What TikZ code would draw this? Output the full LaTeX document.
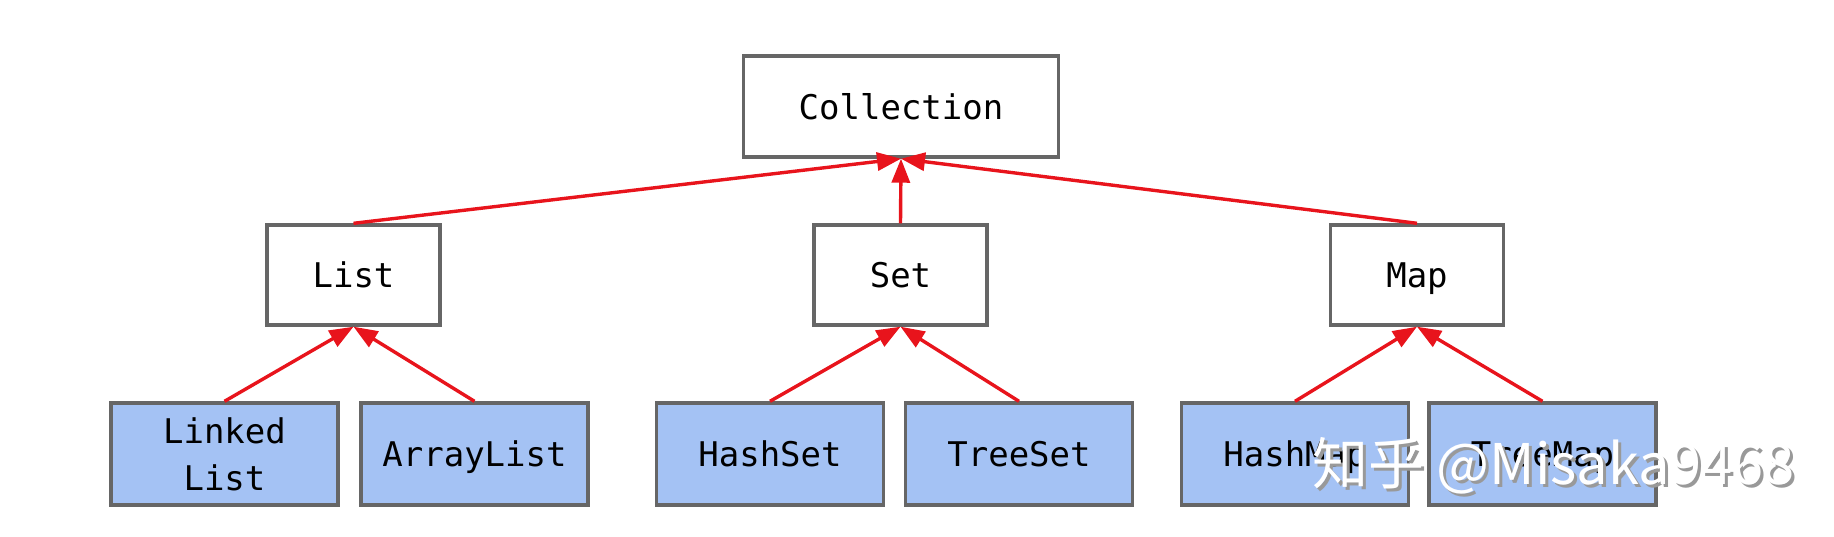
\documentclass[tikz,border=0pt]{standalone}
\usepackage{fontspec}
\setmonofont{DejaVu Sans Mono}
\newfontfamily\cjk{Noto Sans CJK SC}
\usetikzlibrary{arrows.meta}
\definecolor{boxgray}{HTML}{666666}
\definecolor{leafblue}{HTML}{A4C2F4}
\definecolor{arrred}{HTML}{E8141C}
\begin{document}
\begin{tikzpicture}[x=1pt,y=-1pt,
  box/.style={draw=boxgray,line width=3.4pt,fill=white,inner sep=0pt,
    font=\ttfamily\fontsize{34}{47}\selectfont,align=center},
  oneline/.style={text height=25pt,text depth=0pt},
  midbox/.style={box,oneline,minimum width=173pt,minimum height=100pt},
  leaf/.style={box,fill=leafblue,minimum width=227pt,minimum height=102pt},
  link/.style={draw=arrred,line width=3.4pt,-{Triangle[length=24pt,width=18pt]}}]
\useasboundingbox (0,0) rectangle (1834,536);
\node[box,oneline,minimum width=315pt,minimum height=101pt] (coll) at (901,106.5) {Collection};
\node[midbox] (list) at (353.5,275) {List};
\node[midbox] (set) at (900.5,275) {Set};
\node[midbox] (map) at (1417,275) {Map};
\node[leaf] (ll) at (224.5,454) {Linked\\List};
\node[leaf,oneline] (al) at (474.5,454) {ArrayList};
\node[leaf,oneline] (hs) at (770,454) {HashSet};
\node[leaf,oneline] (ts) at (1019,454) {TreeSet};
\node[leaf,oneline] (hm) at (1295,454) {HashMap};
\node[leaf,oneline] (tm) at (1542.5,454) {TreeMap};
\draw[link] (list.north) -- (coll.south);
\draw[link] (set.north) -- (coll.south);
\draw[link] (map.north) -- (coll.south);
\draw[link] (ll.north) -- (list.south);
\draw[link] (al.north) -- (list.south);
\draw[link] (hs.north) -- (set.south);
\draw[link] (ts.north) -- (set.south);
\draw[link] (hm.north) -- (map.south);
\draw[link] (tm.north) -- (map.south);
\node[anchor=base west,inner sep=0pt,text=black!40,font=\cjk\fontsize{56}{66}\selectfont] (wms) at (1315,487) {知乎 @Misaka9468};
\node[anchor=base west,inner sep=0pt,text=white,font=\cjk\fontsize{56}{66}\selectfont] (wm) at (1312,484) {知乎 @Misaka9468};
\end{tikzpicture}
\end{document}
